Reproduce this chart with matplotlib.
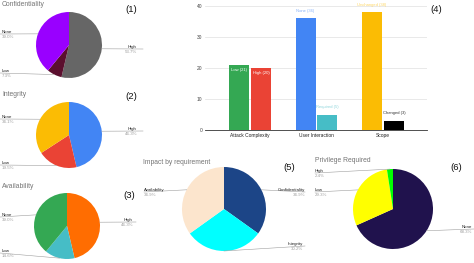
import matplotlib
matplotlib.use("Agg")
import matplotlib.pyplot as plt
from matplotlib.lines import Line2D
import numpy as np

plt.rcParams['font.family'] = ['Liberation Sans', 'DejaVu Sans']

W, H = 474, 263

# ---------------- data ----------------
conf_labels = ["High", "Low", "None"]
conf_values = [22, 3, 16]
conf_pct = ["53.7%", "7.3%", "39.0%"]

integ_labels = ["High", "Low", "None"]
integ_values = [19, 8, 14]
integ_pct = ["46.3%", "19.5%", "34.1%"]

avail_labels = ["High", "Low", "None"]
avail_values = [19, 6, 16]
avail_pct = ["46.3%", "14.6%", "39.0%"]

impact_labels = ["Confidentiality", "Integrity", "Availability"]
impact_values = [15, 13, 15]
impact_pct = ["34.9%", "30.2%", "34.9%"]

priv_labels = ["None", "Low", "High"]
priv_values = [28, 12, 1]
priv_pct = ["68.3%", "29.3%", "2.4%"]

bar_categories = ["Attack Complexity", "User Interaction", "Scope"]
bar_series_labels = [["Low", "High"], ["None", "Required"], ["Unchanged", "Changed"]]
bar_values = [[21, 20], [36, 5], [38, 3]]
y_ticks = [0, 10, 20, 30, 40]

# ---------------- style ----------------
conf_colors = ["#666666", "#5b0f2e", "#9900ff"]
integ_colors = ["#4285f4", "#ea4335", "#fbbc04"]
avail_colors = ["#ff6d01", "#46bdc6", "#34a853"]
impact_colors = ["#1c4587", "#00ffff", "#fce5cd"]
priv_colors = ["#20124d", "#ffff00", "#00ff00"]
bar_colors = [["#34a853", "#ea4335"], ["#4285f4", "#46bdc6"], ["#fbbc04", "#000000"]]
bar_label_colors = [["white", "white"], ["#8ab4f8", "#8fd6dc"], ["#fdd663", "#333333"]]
bar_label_inside = [[True, True], [False, False], [False, False]]

TITLE_C = "#757575"
NAME_C = "#222222"
PCT_C = "#9e9e9e"
LINE_C = "#9e9e9e"

fig = plt.figure(figsize=(W / 100, H / 100), dpi=100)
fig.patch.set_facecolor("white")


def fx(x):
    return x / W


def fy(y):
    return 1 - y / H


def ftext(x, y, s, **kw):
    fig.text(fx(x), fy(y), s, **kw)


def draw_pie(cx, cy, r, values, colors, names, pcts, specs, title, tpos, num, npos):
    ax = fig.add_axes([(cx - r) / W, 1 - (cy + r) / H, 2 * r / W, 2 * r / H])
    wedges, _ = ax.pie(values, colors=colors, startangle=90, counterclock=False,
                       radius=1, wedgeprops=dict(linewidth=0))
    ax.set_xlim(-1, 1)
    ax.set_ylim(-1, 1)
    ax.set_aspect("auto")
    ax.axis("off")
    for w, name, pct, spec in zip(wedges, names, pcts, specs):
        side, xt, ly, xo = spec
        th = np.deg2rad((w.theta1 + w.theta2) / 2)
        px = cx + r * np.cos(th)
        py = cy - r * np.sin(th)
        fig.add_artist(Line2D([fx(xo), fx(px)], [fy(ly), fy(py)],
                              transform=fig.transFigure, color=LINE_C, lw=0.4))
        ha = "left" if side == "L" else "right"
        ftext(xt, ly - 0.4, name, ha=ha, va="bottom", fontsize=3.2, color=NAME_C)
        ftext(xt, ly + 0.6, pct, ha=ha, va="top", fontsize=3.2, color=PCT_C)
    ftext(tpos[0], tpos[1], title, ha="left", va="center", fontsize=4.9, color=TITLE_C)
    ftext(npos[0], npos[1], num, ha="left", va="center", fontsize=6.8, color="#111111")


# Pie 1
draw_pie(69, 45, 33, conf_values, conf_colors, conf_labels, conf_pct,
         [("R", 137, 49, 143), ("L", 2, 73, 0), ("L", 2, 34, 0)],
         "Confidentiality", (2, 5), "(1)", (125, 10))
# Pie 2
draw_pie(69, 135, 33, integ_values, integ_colors, integ_labels, integ_pct,
         [("R", 137, 131, 143), ("L", 2, 165, 0), ("L", 2, 119, 0)],
         "Integrity", (2, 95), "(2)", (125, 97))
# Pie 3
draw_pie(67, 226, 33, avail_values, avail_colors, avail_labels, avail_pct,
         [("R", 133, 222, 136), ("L", 2, 253, 0), ("L", 2, 217, 0)],
         "Availability", (2, 187), "(3)", (123, 195))
# Pie 5
draw_pie(224, 209, 42, impact_values, impact_colors, impact_labels, impact_pct,
         [("R", 305, 192, 305), ("R", 303, 246, 305), ("L", 144, 192, 144)],
         "Impact by requirement", (143, 162), "(5)", (283, 167))
# Pie 6
draw_pie(393, 209, 40, priv_values, priv_colors, priv_labels, priv_pct,
         [("R", 472, 229, 474), ("L", 315, 192, 315), ("L", 315, 173, 315)],
         "Privilege Required", (315, 160), "(6)", (450, 167))

# ---------------- bar chart ----------------
bx0, bx1, by0, by1 = 205, 427, 6, 130
axb = fig.add_axes([fx(bx0), fy(by1), (bx1 - bx0) / W, (by1 - by0) / H])
unit = 66.5
axb.set_xlim((bx0 - 250) / unit, (bx1 - 250) / unit)
axb.set_ylim(0, 40)
bw = 0.3
offs = [-0.165, 0.165]
for i, cat in enumerate(bar_categories):
    for j in range(2):
        v = bar_values[i][j]
        x = i + offs[j]
        axb.bar(x, v, width=bw, color=bar_colors[i][j], zorder=3)
        lab = f"{bar_series_labels[i][j]} ({v})"
        if bar_label_inside[i][j]:
            axb.annotate(lab, (x, v), xytext=(0, -3.5), textcoords="offset points",
                         ha="center", va="center", fontsize=3.0,
                         color=bar_label_colors[i][j], zorder=4)
        else:
            axb.annotate(lab, (x, v), xytext=(0, 5.5), textcoords="offset points",
                         ha="center", va="center", fontsize=3.0,
                         color=bar_label_colors[i][j], zorder=4)
axb.set_xticks(range(len(bar_categories)))
axb.set_xticklabels(bar_categories, fontsize=3.5, color="#222222")
axb.set_yticks(y_ticks)
axb.set_yticklabels([str(t) for t in y_ticks], fontsize=3.5, color="#444444")
axb.tick_params(length=0, pad=2)
axb.grid(axis="y", color="#e0e0e0", lw=0.5, zorder=0)
for s in ["top", "right", "left"]:
    axb.spines[s].set_visible(False)
axb.spines["bottom"].set_color("#333333")
axb.spines["bottom"].set_linewidth(0.6)
axb.set_facecolor("none")
ftext(430, 10, "(4)", ha="left", va="center", fontsize=6.8, color="#111111")

fig.savefig("out.png", dpi=100)
